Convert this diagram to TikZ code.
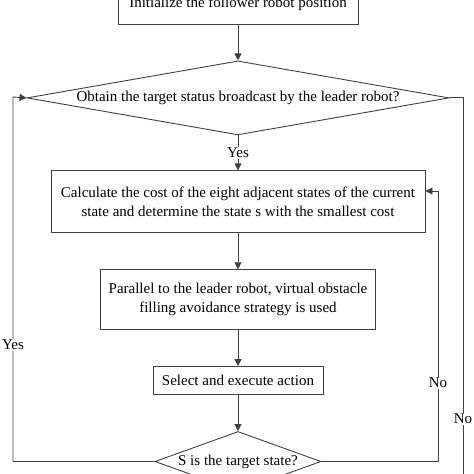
\documentclass[tikz,border=0pt]{standalone}
\usepackage{fontspec}
\setmainfont{Liberation Serif}
\usetikzlibrary{shapes.geometric, positioning, arrows.meta}

\tikzset{
stepbox/.style={draw, rectangle, align=center, inner sep=2pt},
decision/.style={draw, diamond, inner sep=0pt, align=center},
flow/.style={-{Triangle[length=7pt,width=7pt]}},
lbl/.style={fill=white, inner sep=1pt},
}

\begin{document}
\begin{tikzpicture}[x=1pt, y=-1pt, font=\fontsize{15}{19}\selectfont,
line width=0.9pt, color=black!75, every node/.style={text=black}]

\path[use as bounding box] (0,0) rectangle (474,474);
\clip (0,0) rectangle (474,474);

\node (init) [stepbox, minimum width=240pt, minimum height=40pt] at (238,4) {Initialize the follower robot position};
\node (obtain) [decision, aspect=5.7, minimum width=422pt, minimum height=74pt, below=36pt of init] {Obtain the target status broadcast by the leader robot?};
\node (cost) [stepbox, minimum width=374pt, minimum height=62pt, below=35pt of obtain] {Calculate the cost of the eight adjacent states of the current\\ state and determine the state s with the smallest cost};
\node (parallel) [stepbox, minimum width=275pt, minimum height=60pt, below=36pt of cost] {Parallel to the leader robot, virtual obstacle\\ filling avoidance strategy is used};
\node (act) [stepbox, minimum width=170pt, minimum height=28pt, below=36pt of parallel] {Select and execute action};
\node (target) [decision, aspect=2.77, minimum width=166pt, minimum height=60pt, below=36pt of act] {S is the target state?};

\coordinate (yesback) at (13,97);
\coordinate (noback) at (438,191);
\coordinate (noexit) at (463,520);

\draw[flow] (init) -- (obtain);
\draw[flow] (obtain) -- node[lbl]{Yes} (cost);
\draw[flow] (cost) -- (parallel);
\draw[flow] (parallel) -- (act);
\draw[flow] (act) -- (target);

% loops back
\draw[flow] (target.west) -| node[lbl, pos=0.66]{Yes} (yesback) -- (obtain.west);
\draw[flow] (target.east) -| node[lbl, pos=0.645]{No} (noback) -- (cost.east |- noback);
\draw (obtain.east) -| node[lbl, pos=0.88]{No} (noexit);

\end{tikzpicture}
\end{document}
